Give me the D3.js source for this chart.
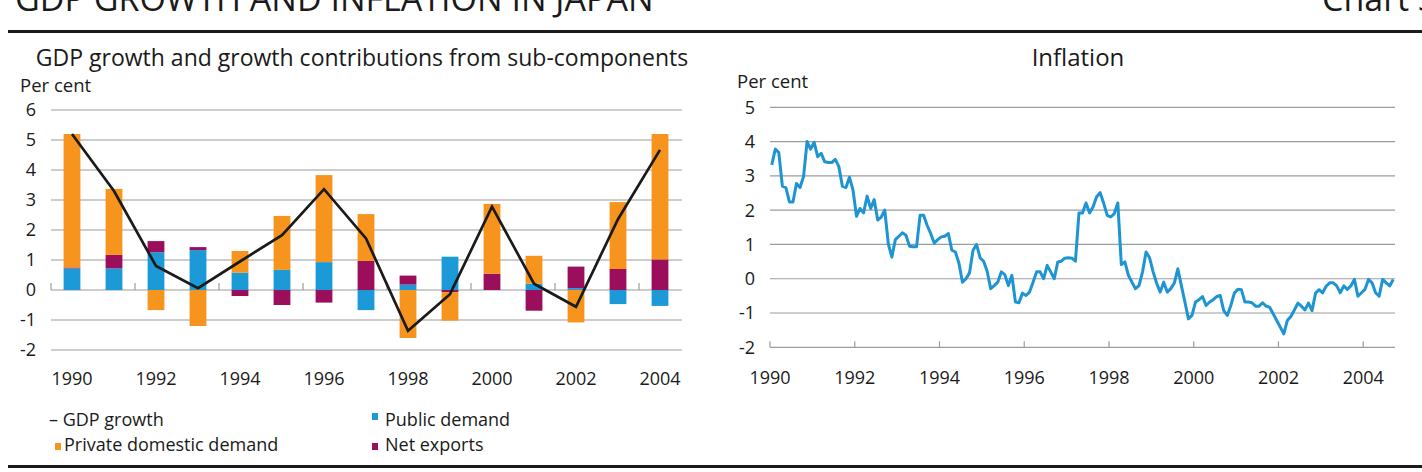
<!DOCTYPE html>
<html>
<head>
<meta charset="utf-8">
<script src="https://cdn.jsdelivr.net/npm/d3@7"></script>
<style>
	body { margin: 0; background: #fff; }
	text { font-family: 'Open Sans', sans-serif; fill: #1a1a1a; }
</style>
</head>
<body>
<script>
// data
const years = [1990, 1991, 1992, 1993, 1994, 1995, 1996, 1997, 1998, 1999, 2000, 2001, 2002, 2003, 2004];
const gdpGrowth = [5.2, 3.3, 0.8, 0.06, 0.95, 1.83, 3.36, 1.72, -1.36, -0.14, 2.78, 0.21, -0.56, 2.36, 4.67];
const publicDemand = [0.72, 0.72, 1.26, 1.33, 0.58, 0.67, 0.93, -0.67, 0.18, 1.11, 0.0, 0.21, 0.06, -0.47, -0.53];
const netExports = [0.03, 0.45, 0.37, 0.1, -0.2, -0.5, -0.42, 0.97, 0.3, -0.07, 0.54, -0.69, 0.72, 0.7, 1.02];
const privateDemand = [4.45, 2.2, -0.67, -1.2, 0.72, 1.8, 2.9, 1.56, -1.6, -0.95, 2.33, 0.93, -1.08, 2.23, 4.18];

// monthly CPI inflation, Jan 1990 - Sep 2004
const inflationStart = 1990;
const inflation = [
	3.32, 3.78, 3.68, 2.7, 2.66, 2.24, 2.24, 2.78, 2.66, 2.98, 4.0, 3.78,
	3.98, 3.56, 3.66, 3.41, 3.39, 3.39, 3.48, 3.27, 2.7, 2.66, 2.96, 2.59,
	1.82, 2.05, 1.92, 2.41, 2.05, 2.31, 1.71, 1.8, 2.0, 1.02, 0.63, 1.14,
	1.24, 1.34, 1.27, 0.95, 0.93, 0.93, 1.85, 1.85, 1.56, 1.32, 1.04, 1.14,
	1.22, 1.24, 1.32, 0.83, 0.78, 0.46, -0.1, 0.0, 0.17, 0.83, 1.0, 0.61,
	0.51, 0.22, -0.29, -0.2, -0.1, 0.2, 0.12, -0.2, 0.1, -0.68, -0.7, -0.42,
	-0.49, -0.39, -0.1, 0.2, 0.2, 0.0, 0.39, 0.2, 0.0, 0.49, 0.51, 0.6,
	0.61, 0.6, 0.51, 1.92, 1.92, 2.21, 1.92, 2.1, 2.39, 2.51, 2.2, 1.85,
	1.8, 1.9, 2.21, 0.41, 0.49, 0.1, -0.1, -0.29, -0.2, 0.2, 0.78, 0.61,
	0.2, -0.13, -0.39, -0.1, -0.39, -0.29, -0.13, 0.29, -0.2, -0.68, -1.17, -1.07,
	-0.68, -0.61, -0.52, -0.78, -0.68, -0.61, -0.52, -0.49, -0.93, -1.07, -0.78, -0.42,
	-0.31, -0.32, -0.68, -0.68, -0.7, -0.8, -0.8, -0.7, -0.8, -0.83, -1.02, -1.22,
	-1.41, -1.61, -1.22, -1.1, -0.91, -0.71, -0.8, -0.91, -0.71, -0.93, -0.42, -0.32,
	-0.41, -0.22, -0.12, -0.12, -0.21, -0.41, -0.21, -0.31, -0.21, -0.02, -0.51, -0.41,
	-0.31, -0.02, -0.12, -0.41, -0.51, -0.02, -0.12, -0.21, -0.02
];

const leftTicks = [-2, -1, 0, 1, 2, 3, 4, 5, 6];
const rightTicks = [-2, -1, 0, 1, 2, 3, 4, 5];
const yearTicks = [1990, 1992, 1994, 1996, 1998, 2000, 2002, 2004];

const keys = ['public', 'net', 'private'];
const colors = { public: '#1b9ad7', net: '#9a0e5b', private: '#f7941d' };
const gridColor = '#9c9c9c';
const ink = '#1a1a1a';

const width = 1422, height = 472;

const svg = d3.select('body').append('svg')
	.attr('width', width)
	.attr('height', height);

// heading and rules (the heading is cut by the top edge, as in the source)
svg.append('text').attr('x', 15).attr('y', 11).style('font-size', '34px').text('GDP GROWTH AND INFLATION IN JAPAN');
svg.append('text').attr('x', 1322).attr('y', 11).style('font-size', '34px').text('Chart 3');
svg.append('rect').attr('x', 8).attr('y', 30).attr('width', width - 8).attr('height', 3).attr('fill', ink);
svg.append('rect').attr('x', 8).attr('y', 465).attr('width', width - 8).attr('height', 3).attr('fill', ink);

// ---------- left panel: GDP growth and contributions ----------
const x = d3.scaleBand().domain(years).range([51, 681]).paddingInner(0.6).paddingOuter(0.3);
const y = d3.scaleLinear().domain([-2, 6]).range([350, 110]);

const left = svg.append('g');
left.append('text').attr('x', 362).attr('y', 66).attr('text-anchor', 'middle').style('font-size', '23px')
	.text('GDP growth and growth contributions from sub-components');
left.append('text').attr('x', 20).attr('y', 92).style('font-size', '18.5px').text('Per cent');

left.selectAll('.grid').data(leftTicks).join('line')
	.attr('x1', 51).attr('x2', 682)
	.attr('y1', (d) => y(d)).attr('y2', (d) => y(d))
	.attr('stroke', gridColor).attr('stroke-width', 1.2);
left.selectAll('.ylab').data(leftTicks).join('text')
	.attr('x', 36).attr('y', (d) => y(d)).attr('dy', '0.36em')
	.attr('text-anchor', 'end').style('font-size', '18px')
	.text((d) => d);

// small ticks on the zero line at every second year boundary
const step = x.step();
left.selectAll('.xtick').data(yearTicks).join('line')
	.attr('x1', (d) => x(d) + x.bandwidth() / 2 - step / 2)
	.attr('x2', (d) => x(d) + x.bandwidth() / 2 - step / 2)
	.attr('y1', y(0)).attr('y2', y(0) - 7)
	.attr('stroke', gridColor).attr('stroke-width', 1.2);
left.selectAll('.xlab').data(yearTicks).join('text')
	.attr('x', (d) => x(d) + x.bandwidth() / 2).attr('y', 385)
	.attr('text-anchor', 'middle').style('font-size', '18px')
	.text((d) => d);

const rows = years.map((yr, i) => ({
	year: yr, public: publicDemand[i], net: netExports[i], private: privateDemand[i]
}));
const series = d3.stack().keys(keys).offset(d3.stackOffsetDiverging)(rows);

left.selectAll('.layer').data(series).join('g')
	.attr('fill', (d) => colors[d.key])
	.selectAll('rect').data((d) => d).join('rect')
	.attr('x', (d) => x(d.data.year))
	.attr('width', x.bandwidth())
	.attr('y', (d) => y(Math.max(d[0], d[1])))
	.attr('height', (d) => Math.abs(y(d[0]) - y(d[1])));

const gdpLine = d3.line()
	.x((d, i) => x(years[i]) + x.bandwidth() / 2)
	.y((d) => y(d));
left.append('path')
	.attr('d', gdpLine(gdpGrowth))
	.attr('fill', 'none').attr('stroke', ink).attr('stroke-width', 2.7)
	.attr('stroke-linejoin', 'miter');

// legend
const legend = svg.append('g').style('font-size', '18px');
legend.append('text').attr('x', 49).attr('y', 426).text('\u2013 GDP growth');
legend.append('rect').attr('x', 55).attr('y', 443).attr('width', 6).attr('height', 7).attr('fill', colors.private);
legend.append('text').attr('x', 64).attr('y', 451).text('Private domestic demand');
legend.append('rect').attr('x', 372).attr('y', 413).attr('width', 6).attr('height', 7).attr('fill', colors.public);
legend.append('text').attr('x', 385).attr('y', 426).text('Public demand');
legend.append('rect').attr('x', 372).attr('y', 443).attr('width', 6).attr('height', 7).attr('fill', colors.net);
legend.append('text').attr('x', 385).attr('y', 451).text('Net exports');

// ---------- right panel: inflation ----------
const xr = d3.scaleLinear().domain([inflationStart, inflationStart + inflation.length / 12]).range([770, 1395]);
const yr = d3.scaleLinear().domain([-2, 5]).range([347.3, 107.3]);

const right = svg.append('g');
right.append('text').attr('x', 1078).attr('y', 66).attr('text-anchor', 'middle').style('font-size', '24px').text('Inflation');
right.append('text').attr('x', 737).attr('y', 88).style('font-size', '18.5px').text('Per cent');

right.selectAll('.grid').data(rightTicks).join('line')
	.attr('x1', 770).attr('x2', 1395)
	.attr('y1', (d) => yr(d)).attr('y2', (d) => yr(d))
	.attr('stroke', gridColor).attr('stroke-width', 1.2);
right.selectAll('.ylab').data(rightTicks).join('text')
	.attr('x', 755).attr('y', (d) => yr(d)).attr('dy', '0.36em')
	.attr('text-anchor', 'end').style('font-size', '18px')
	.text((d) => d);
right.selectAll('.xtick').data(yearTicks).join('line')
	.attr('x1', (d) => xr(d)).attr('x2', (d) => xr(d))
	.attr('y1', yr(-2)).attr('y2', yr(-2) - 6)
	.attr('stroke', gridColor).attr('stroke-width', 1.2);
right.selectAll('.xlab').data(yearTicks).join('text')
	.attr('x', (d) => xr(d)).attr('y', 384)
	.attr('text-anchor', 'middle').style('font-size', '18px')
	.text((d) => d);

const inflLine = d3.line()
	.x((d, i) => xr(inflationStart + (i + 0.5) / 12))
	.y((d) => yr(d));
right.append('path')
	.attr('d', inflLine(inflation))
	.attr('fill', 'none').attr('stroke', '#1e94d2').attr('stroke-width', 3)
	.attr('stroke-linejoin', 'round');
</script>
</body>
</html>
